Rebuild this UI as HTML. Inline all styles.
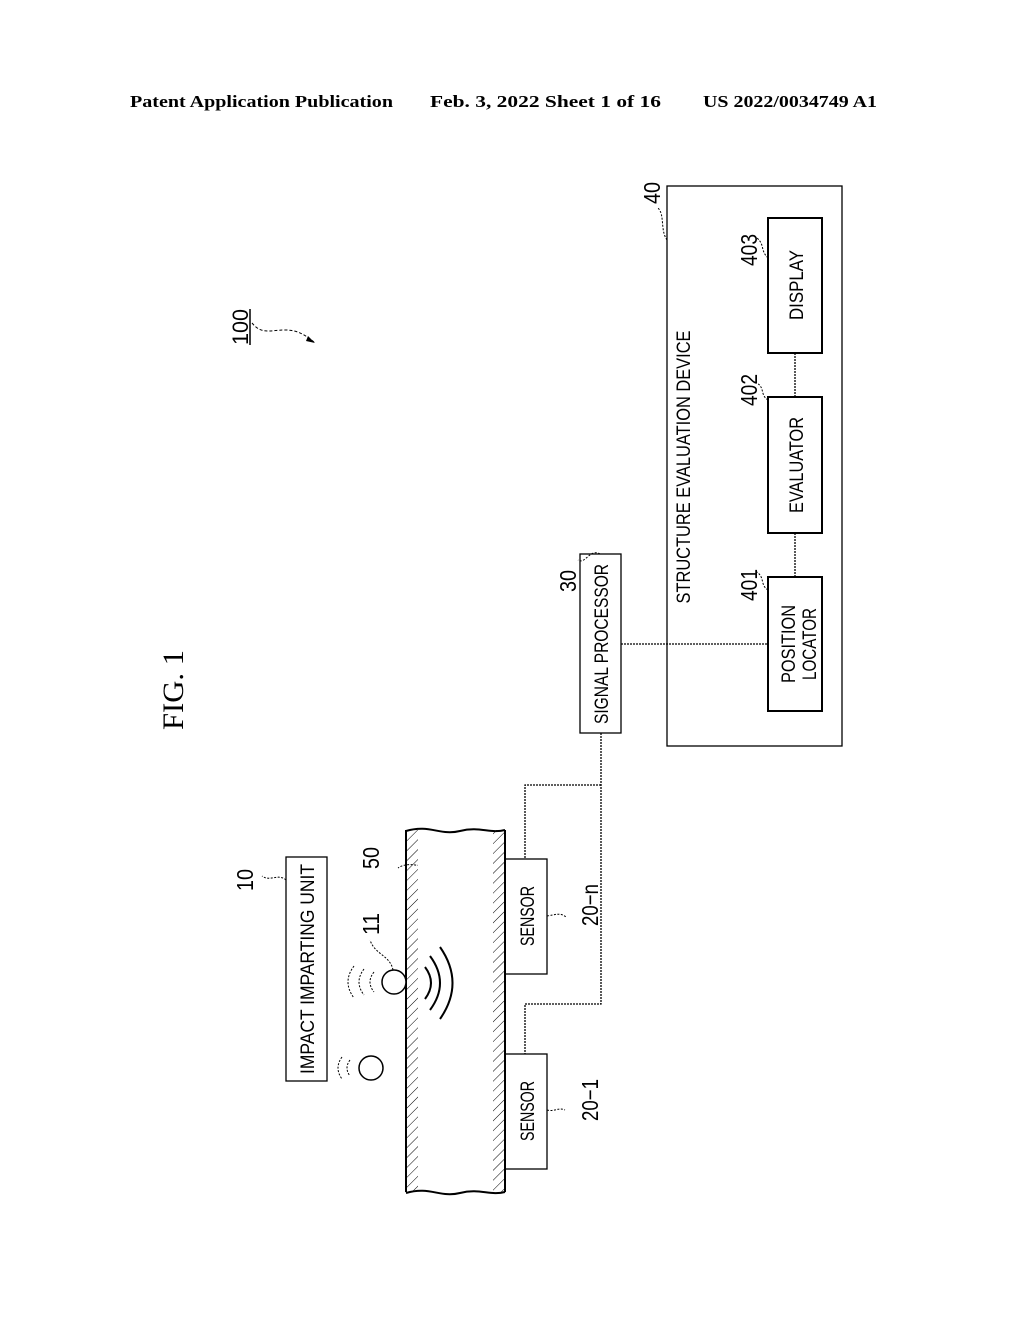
<!DOCTYPE html>
<html><head><meta charset="utf-8"><style>
html,body{margin:0;padding:0;background:#fff;}
svg{display:block;}
text{font-family:"Liberation Sans",sans-serif;fill:#000;}
.s{font-family:"Liberation Serif",serif;}
</style></head><body>
<svg width="1020" height="1320" viewBox="0 0 1020 1320" xmlns="http://www.w3.org/2000/svg">
<defs>
<pattern id="h" width="7" height="7" patternUnits="userSpaceOnUse" patternTransform="rotate(45)">
<line x1="0" y1="0" x2="0" y2="7" stroke="#000" stroke-width="1"/>
</pattern>
</defs>
<g class="s" font-weight="bold" font-size="17">
<text class="s" x="130" y="107" textLength="263" lengthAdjust="spacingAndGlyphs">Patent Application Publication</text>
<text class="s" x="430" y="107" textLength="231" lengthAdjust="spacingAndGlyphs">Feb. 3, 2022   Sheet 1 of 16</text>
<text class="s" x="703" y="107" textLength="174" lengthAdjust="spacingAndGlyphs">US 2022/0034749 A1</text>
</g>
<text class="s" font-size="30" transform="translate(183,690) rotate(-90)" text-anchor="middle" textLength="80" lengthAdjust="spacingAndGlyphs">FIG. 1</text>
<text font-size="22" transform="translate(248,327) rotate(-90)" text-anchor="middle" textLength="36" lengthAdjust="spacingAndGlyphs">100</text>
<line x1="250" y1="309" x2="250" y2="345" stroke="#000" stroke-width="1.5"/>
<path d="M252 323 C262 335 270 330 285 330 C298 330 305 335 314 342" fill="none" stroke="#000" stroke-width="1" stroke-dasharray="3 2"/>
<path d="M308 336 L315 343 L306 341 Z" fill="#000"/>

<g fill="none" stroke="#000" stroke-width="1.3">
<rect x="667" y="186" width="175" height="560"/>
<rect x="768" y="218" width="54" height="135" stroke-width="2"/>
<rect x="768" y="397" width="54" height="136" stroke-width="2"/>
<rect x="768" y="577" width="54" height="134" stroke-width="2"/>
<rect x="580" y="554" width="41" height="179"/>
<rect x="286" y="857" width="41" height="224"/>
<rect x="505" y="859" width="42" height="115"/>
<rect x="505" y="1054" width="42" height="115"/>
</g>
<g stroke="#000" stroke-width="1.3" fill="none" stroke-dasharray="2 1">
<line x1="795" y1="353" x2="795" y2="397"/>
<line x1="795" y1="533" x2="795" y2="577"/>
<line x1="621" y1="644" x2="768" y2="644"/>
<path d="M601 733 V1004 H525 V1054"/>
<path d="M601 785 H525 V859"/>
</g>
<g font-size="19">
<text transform="translate(803,285) rotate(-90)" text-anchor="middle" textLength="70" lengthAdjust="spacingAndGlyphs">DISPLAY</text>
<text transform="translate(803,465) rotate(-90)" text-anchor="middle" textLength="96" lengthAdjust="spacingAndGlyphs">EVALUATOR</text>
<text transform="translate(795,644) rotate(-90)" text-anchor="middle" textLength="78" lengthAdjust="spacingAndGlyphs">POSITION</text>
<text transform="translate(816,644) rotate(-90)" text-anchor="middle" textLength="72" lengthAdjust="spacingAndGlyphs">LOCATOR</text>
<text transform="translate(690,467) rotate(-90)" text-anchor="middle" textLength="273" lengthAdjust="spacingAndGlyphs">STRUCTURE EVALUATION DEVICE</text>
<text transform="translate(608,644) rotate(-90)" text-anchor="middle" textLength="160" lengthAdjust="spacingAndGlyphs">SIGNAL PROCESSOR</text>
<text transform="translate(314,969) rotate(-90)" text-anchor="middle" textLength="210" lengthAdjust="spacingAndGlyphs">IMPACT IMPARTING UNIT</text>
<text transform="translate(534,916) rotate(-90)" text-anchor="middle" textLength="60" lengthAdjust="spacingAndGlyphs">SENSOR</text>
<text transform="translate(534,1111) rotate(-90)" text-anchor="middle" textLength="60" lengthAdjust="spacingAndGlyphs">SENSOR</text>
</g>
<g font-size="23">
<text transform="translate(757,250) rotate(-90)" text-anchor="middle" textLength="32" lengthAdjust="spacingAndGlyphs">403</text>
<text transform="translate(757,390) rotate(-90)" text-anchor="middle" textLength="32" lengthAdjust="spacingAndGlyphs">402</text>
<text transform="translate(757,585) rotate(-90)" text-anchor="middle" textLength="32" lengthAdjust="spacingAndGlyphs">401</text>
<text transform="translate(660,193) rotate(-90)" text-anchor="middle" textLength="22" lengthAdjust="spacingAndGlyphs">40</text>
<text transform="translate(576,581) rotate(-90)" text-anchor="middle" textLength="22" lengthAdjust="spacingAndGlyphs">30</text>
<text transform="translate(253,880) rotate(-90)" text-anchor="middle" textLength="22" lengthAdjust="spacingAndGlyphs">10</text>
<text transform="translate(379,858) rotate(-90)" text-anchor="middle" textLength="22" lengthAdjust="spacingAndGlyphs">50</text>
<text transform="translate(379,924) rotate(-90)" text-anchor="middle" textLength="22" lengthAdjust="spacingAndGlyphs">11</text>
<text transform="translate(598,905) rotate(-90)" text-anchor="middle" textLength="42" lengthAdjust="spacingAndGlyphs">20−n</text>
<text transform="translate(598,1100) rotate(-90)" text-anchor="middle" textLength="42" lengthAdjust="spacingAndGlyphs">20−1</text>
</g>
<g fill="none" stroke="#000" stroke-width="1" stroke-dasharray="2 1.5">
<path d="M768 258 C760 250 765 245 757 238"/>
<path d="M768 400 C760 395 765 388 757 383"/>
<path d="M768 590 C760 585 765 578 757 572"/>
<path d="M667 240 C660 230 665 215 658 208"/>
<path d="M600 554 C590 548 585 565 578 560" />
<path d="M286 880 C278 873 270 882 262 876"/>
<path d="M433 862 C420 870 410 860 398 868"/>
<path d="M393 970 C390 955 375 955 370 940"/>
<path d="M547 916 C555 915 560 912 566 917"/>
<path d="M547 1110 C555 1112 558 1107 565 1110"/>
</g>
<rect x="406" y="830" width="12" height="362" fill="url(#h)"/>
<rect x="493" y="830" width="12" height="362" fill="url(#h)"/>
<g fill="none" stroke="#000" stroke-width="2">
<line x1="406" y1="830" x2="406" y2="1192"/>
<line x1="505" y1="830" x2="505" y2="1192"/>
<path d="M406 831 C430 824 440 836 460 831 C480 826 490 834 505 830"/>
<path d="M406 1193 C430 1186 440 1198 460 1193 C480 1188 490 1196 505 1192"/>
</g>
<rect x="418" y="834" width="75" height="355" fill="#fff"/>
<g fill="none" stroke="#000">
<circle cx="394" cy="982" r="12" stroke-width="1.5" fill="#fff"/>
<circle cx="371" cy="1068" r="12" stroke-width="1.5"/>
<path d="M425 967 Q437 983 425 999" stroke-width="2"/>
<path d="M430 956 Q450 983 430 1010" stroke-width="2"/>
<path d="M440 947 Q465 983 440 1019" stroke-width="2"/>
<path d="M374 972 Q366 982 374 992" stroke-dasharray="2 1.5"/>
<path d="M364 969 Q354 982 364 995" stroke-dasharray="2 1.5"/>
<path d="M354 966 Q342 982 354 998" stroke-dasharray="2 1.5"/>
<path d="M350 1060 Q344 1068 350 1076" stroke-dasharray="2 1.5"/>
<path d="M342 1057 Q334 1068 342 1079" stroke-dasharray="2 1.5"/>
</g>
</svg>
</body></html>
